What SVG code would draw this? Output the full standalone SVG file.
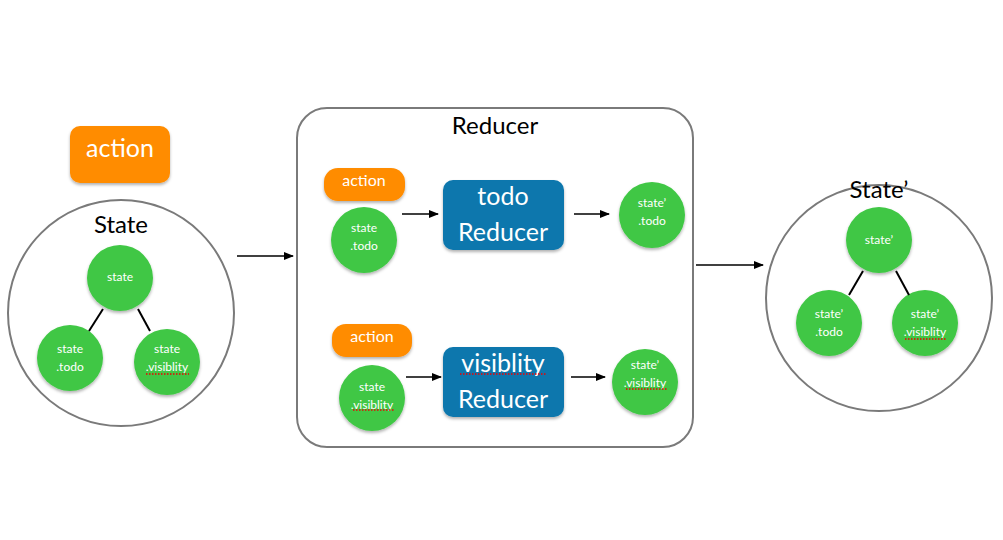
<svg xmlns="http://www.w3.org/2000/svg" width="1003" height="540" viewBox="0 0 1003 540">
<defs>
<marker id="ah" markerWidth="10" markerHeight="8" refX="9" refY="4" orient="auto" markerUnits="userSpaceOnUse"><path d="M0,0 L10,4 L0,8 z" fill="#000"/></marker>
<filter id="sh" x="-20%" y="-20%" width="140%" height="150%"><feDropShadow dx="0" dy="2" stdDeviation="1.5" flood-color="#000" flood-opacity="0.3"/></filter>
</defs>
<style>
text{font-family:Lato,"Noto Sans","Liberation Sans",sans-serif;text-anchor:middle}
.big{fill:none;stroke:#7a7a7a;stroke-width:2}
.g{fill:#3fc744;filter:url(#sh)}
.o{fill:#ff8c00;filter:url(#sh)}
.b{fill:#0b77ad;filter:url(#sh)}
.wt{fill:#fff;font-size:12px}
.lt{fill:#fff;font-size:16px}
.bt{fill:#fff;font-size:25px}
.title{fill:#000;font-size:24px}
.ln{stroke:#000;stroke-width:2;fill:none}
.ar{stroke:#000;stroke-width:1.6;fill:none;marker-end:url(#ah)}
.sq{stroke:#e00;stroke-width:1.3;stroke-dasharray:1.5 1.5;fill:none}
</style>
<g id="action-main"><rect class="o" x="70" y="126" width="100" height="57" rx="10"/><text class="bt" x="120" y="157">action</text></g>
<g id="state"><circle class="big" cx="121" cy="313" r="113"/><text class="title" x="121" y="233">State</text></g>
<g id="state-root"><circle class="g" cx="120" cy="278" r="33"/><text class="wt" x="120" y="281">state</text></g>
<g id="state-todo"><circle class="g" cx="70" cy="358" r="33"/><text class="wt" x="70" y="353">state</text><text class="wt" x="70" y="371">.todo</text></g>
<g id="state-vis"><circle class="g" cx="167" cy="362" r="33"/><text class="wt" x="167" y="353">state</text><text class="wt" x="167" y="371">.visiblity</text><path class="sq" d="M146,374 H189"/></g>
<g id="reducer"><rect class="big" x="297" y="108" width="396" height="339" rx="30"/><text class="title" x="495" y="134">Reducer</text></g>
<g id="action-todo"><rect class="o" x="324" y="168" width="81" height="33" rx="14"/><text class="lt" x="364" y="186">action</text></g>
<g id="r-state-todo"><circle class="g" cx="364" cy="240" r="33"/><text class="wt" x="364" y="232">state</text><text class="wt" x="364" y="250">.todo</text></g>
<g id="todo-reducer"><rect class="b" x="443" y="180" width="121" height="70" rx="10"/><text class="bt" x="503" y="205">todo</text><text class="bt" x="503" y="241">Reducer</text></g>
<g id="state-p-todo"><circle class="g" cx="652" cy="215" r="33"/><text class="wt" x="652" y="207">state’</text><text class="wt" x="652" y="225">.todo</text></g>
<g id="action-vis"><rect class="o" x="332" y="324" width="80" height="33" rx="14"/><text class="lt" x="372" y="342">action</text></g>
<g id="r-state-vis"><circle class="g" cx="372" cy="398" r="33"/><text class="wt" x="372" y="391">state</text><text class="wt" x="372" y="409">.visiblity</text><path class="sq" d="M353,410 H394"/></g>
<g id="vis-reducer"><rect class="b" x="443" y="347" width="121" height="70" rx="10"/><text class="bt" x="503" y="372">visiblity</text><text class="bt" x="503" y="408">Reducer</text><path class="sq" d="M460,374 H546"/></g>
<g id="state-p-vis"><circle class="g" cx="645" cy="382" r="33"/><text class="wt" x="645" y="369">state’</text><text class="wt" x="645" y="387">.visiblity</text><path class="sq" d="M626,389 H667"/></g>
<g id="state-prime"><circle class="big" cx="879" cy="298" r="113"/><text class="title" x="879" y="198">State’</text></g>
<g id="sp-root"><circle class="g" cx="879" cy="240" r="33"/><text class="wt" x="879" y="244">state’</text></g>
<g id="sp-todo"><circle class="g" cx="829" cy="323" r="33"/><text class="wt" x="829" y="318">state’</text><text class="wt" x="829" y="336">.todo</text></g>
<g id="sp-vis"><circle class="g" cx="925" cy="323" r="33"/><text class="wt" x="925" y="318">state’</text><text class="wt" x="925" y="336">.visiblity</text><path class="sq" d="M905,339 H947"/></g>
<g id="connectors">
<path class="ln" d="M103,309 L89,331"/><path class="ln" d="M138,309 L150,331"/>
<path class="ln" d="M863,271 L849,295"/><path class="ln" d="M896,271 L909,295"/>
<path class="ar" d="M237,256 H293"/>
<path class="ar" d="M402,214 H438"/>
<path class="ar" d="M574,214 H609"/>
<path class="ar" d="M406,377 H441"/>
<path class="ar" d="M571,377 H605"/>
<path class="ar" d="M696,265 H763"/>
</g>
</svg>
